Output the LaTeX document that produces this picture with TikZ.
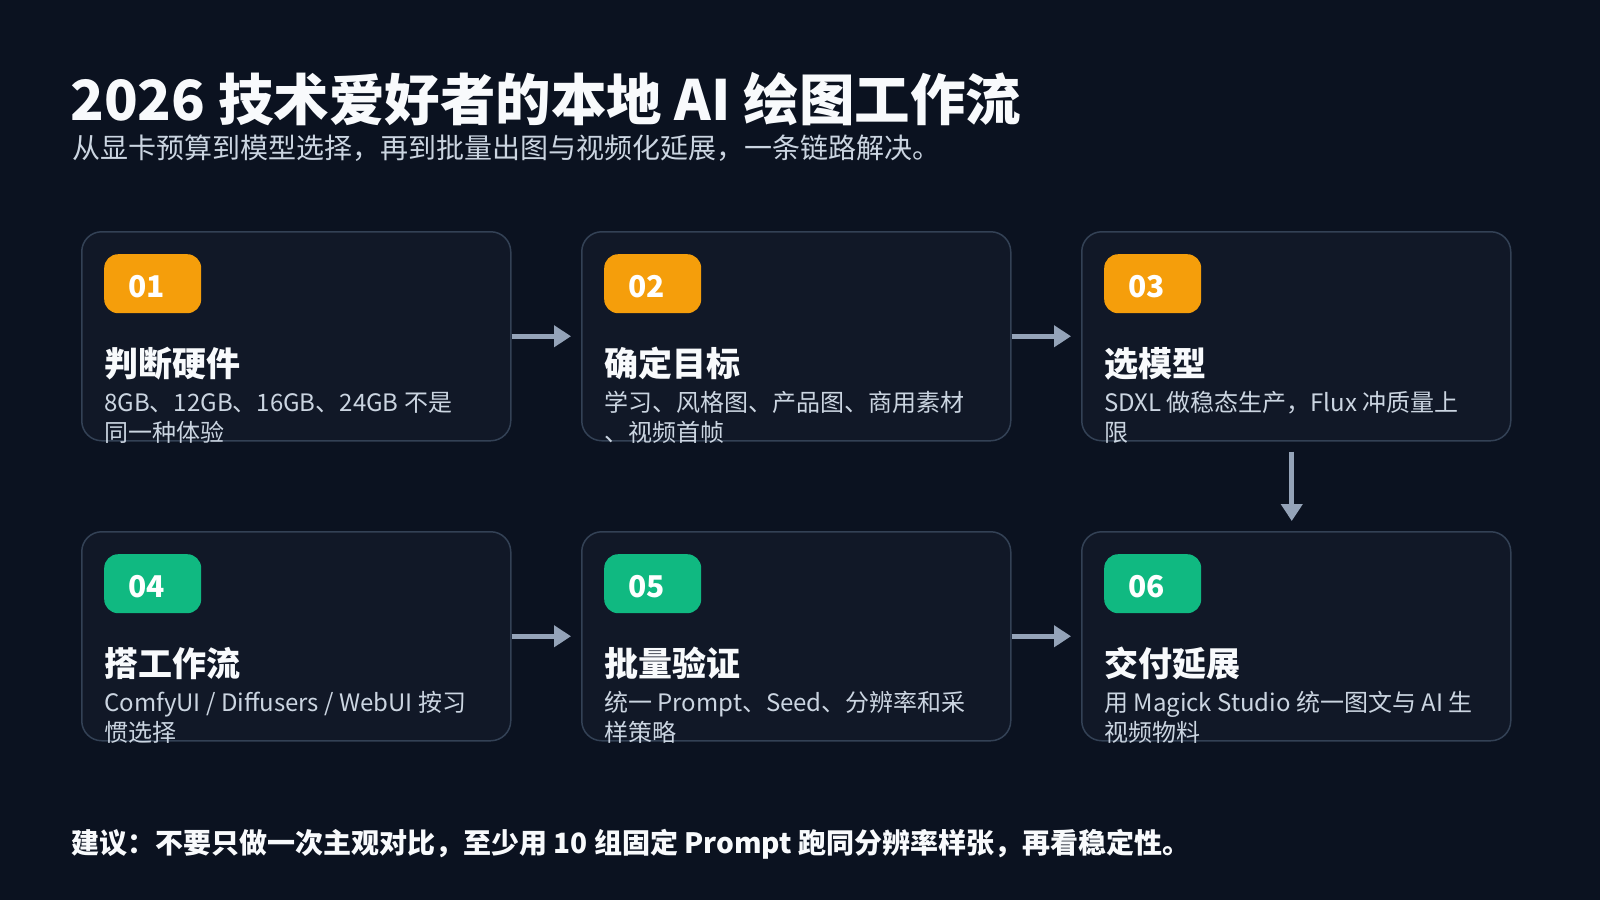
\documentclass[tikz,border=0pt]{standalone}
\usepackage{fontspec}
\setmainfont{Noto Sans CJK SC}
\usetikzlibrary{arrows.meta}
\definecolor{bgc}{HTML}{0B1220}
\definecolor{cardfill}{HTML}{111827}
\definecolor{cardborder}{HTML}{334155}
\definecolor{orangec}{HTML}{F59E0B}
\definecolor{greenc}{HTML}{10B981}
\definecolor{arrowc}{HTML}{94A3B8}
\definecolor{desctext}{HTML}{CBD5E1}
\definecolor{titletext}{HTML}{F8FAFC}
\newcommand\flowcard[8]{%
  \node[card, anchor=north west] (c#1) at (#2,#3) {};
  \node[badge, fill=#4, anchor=north west] (b#1) at (#2+23,#3+23) {};
  \node[num, anchor=base west] (n#1) at (#2+47,#3+66) {#5};
  \node[ctitle, anchor=base west] (t#1) at (#2+23,#3+145) {#6};
  \node[desc, anchor=base west] (d#1) at (#2+23,#3+180) {\vtop{\hbox{#7}\hbox{#8}}};
}
\begin{document}
\begin{tikzpicture}[x=1pt,y=-1pt,
  card/.style={draw=cardborder, line width=1.5pt, fill=cardfill, rounded corners=20pt,
    minimum width=429pt, minimum height=209pt, inner sep=0pt},
  badge/.style={rounded corners=14pt, minimum width=97pt, minimum height=59pt, inner sep=0pt},
  num/.style={inner sep=0pt, text=white, font=\fontsize{30}{36}\selectfont\bfseries},
  ctitle/.style={inner sep=0pt, text=titletext, font=\fontsize{34}{40}\selectfont\bfseries},
  desc/.style={inner sep=0pt, text=desctext, font=\fontsize{24}{30}\selectfont},
  flowarrow/.style={draw=arrowc, line width=5pt, -{Triangle[length=17pt,width=21pt]}},
  plaintext/.style={inner sep=0pt, anchor=base west}
]
\fill[bgc] (0,0) rectangle (1600,900);
\useasboundingbox (0,0) rectangle (1600,900);

\node[plaintext, text=titletext, font=\fontsize{55.5}{66}\selectfont\bfseries] (title) at (70,120)
  {2026 技术爱好者的本地 AI 绘图工作流};
\node[plaintext, text=desctext, font=\fontsize{28}{34}\selectfont] (subtitle) at (72,158)
  {从显卡预算到模型选择，再到批量出图与视频化延展，一条链路解决。};

\flowcard{1}{81}{231}{orangec}{01}{判断硬件}{8GB、12GB、16GB、24GB 不是}{同一种体验}
\flowcard{2}{581}{231}{orangec}{02}{确定目标}{学习、风格图、产品图、商用素材}{、视频首帧}
\flowcard{3}{1081}{231}{orangec}{03}{选模型}{SDXL 做稳态生产，Flux 冲质量上}{限}
\flowcard{4}{81}{531}{greenc}{04}{搭工作流}{ComfyUI / Diffusers / WebUI 按习}{惯选择}
\flowcard{5}{581}{531}{greenc}{05}{批量验证}{统一 Prompt、Seed、分辨率和采}{样策略}
\flowcard{6}{1081}{531}{greenc}{06}{交付延展}{用 Magick Studio 统一图文与 AI 生}{视频物料}

\draw[flowarrow, shorten >=10pt] (c1.east) -- (c2.west);
\draw[flowarrow, shorten >=10pt] (c2.east) -- (c3.west);
\draw[flowarrow, shorten >=10pt] (c4.east) -- (c5.west);
\draw[flowarrow, shorten >=10pt] (c5.east) -- (c6.west);
\draw[flowarrow, shorten <=10pt, shorten >=10pt] ([xshift=-4.5pt]c3.south) -- ([xshift=-4.5pt]c6.north);

\node[plaintext, text=titletext, font=\fontsize{28}{34}\selectfont\bfseries] (advice) at (71,853)
  {建议：不要只做一次主观对比，至少用 10 组固定 Prompt 跑同分辨率样张，再看稳定性。};
\end{tikzpicture}
\end{document}
